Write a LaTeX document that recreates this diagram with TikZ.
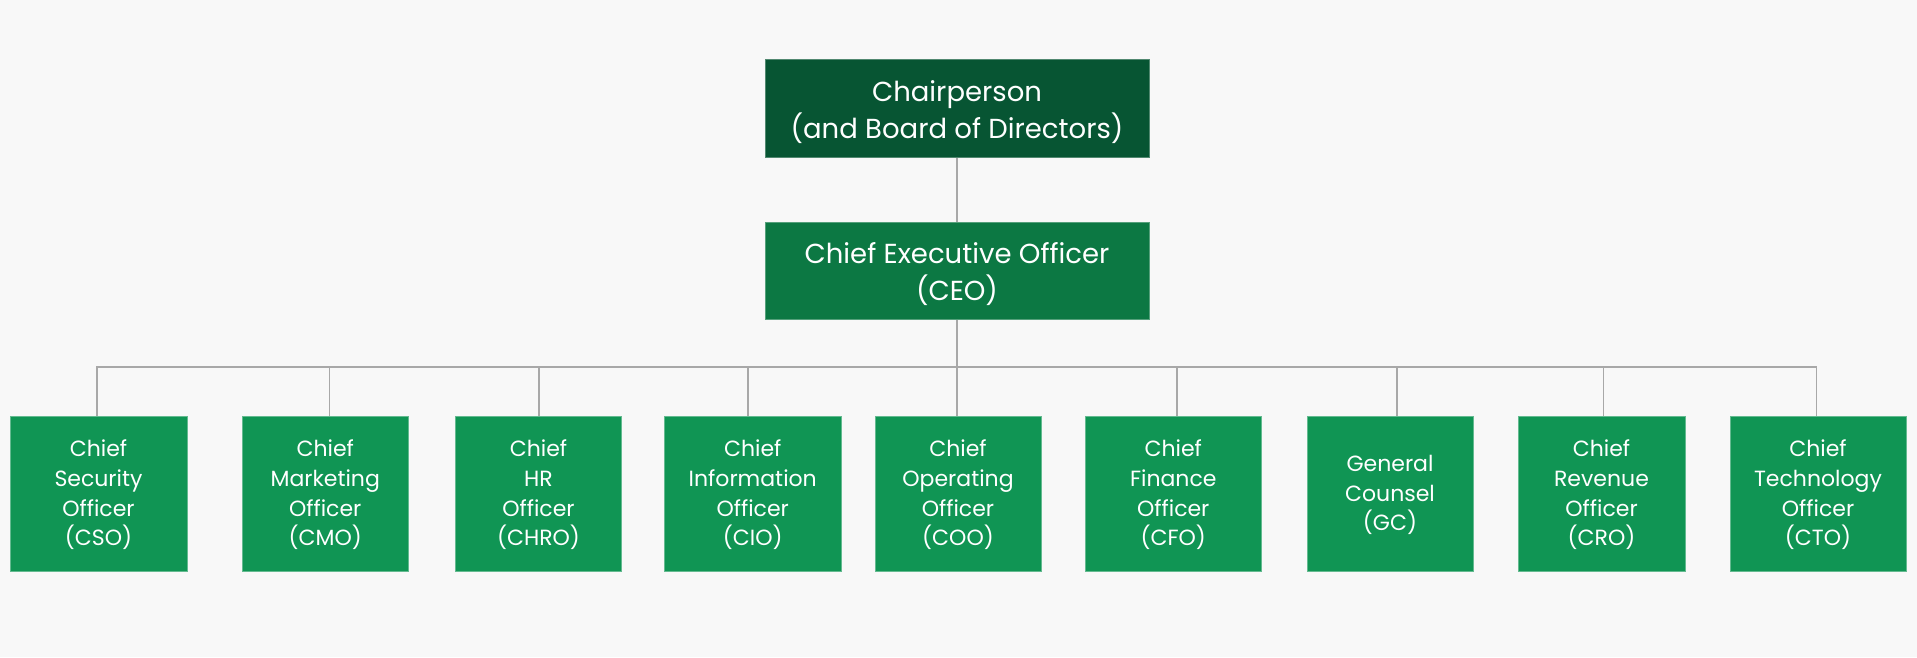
\documentclass[tikz,border=0pt]{standalone}
\usepackage{fontspec}
\setmainfont{Poppins}
\definecolor{bg}{HTML}{F8F8F8}
\definecolor{chairc}{HTML}{075533}
\definecolor{ceoc}{HTML}{0C7843}
\definecolor{kidc}{HTML}{109554}
\definecolor{linec}{HTML}{A8A8A8}
\tikzset{
  orgbox/.style={inner sep=0pt, line width=1pt},
  boxtext/.style={inner sep=0pt, align=center, text=white},
  toptext/.style={boxtext, yshift=-4pt, font=\fontsize{27.5}{37}\selectfont},
  kidtext/.style={boxtext, yshift=-1.5pt, font=\fontsize{22}{29.7}\selectfont},
  topbox/.style={orgbox, minimum width=384pt, minimum height=97pt, label={[toptext]center:{#1}}},
  kidbox/.style={orgbox, fill=kidc, draw=kidc!65!white, minimum height=155pt, label={[kidtext]center:{#1}}},
  conn/.style={draw=linec, line width=1.6pt}
}
\begin{document}
\begin{tikzpicture}[x=1pt,y=-1pt]
\fill[bg] (0,0) rectangle (1917,657);
\useasboundingbox (0,0) rectangle (1917,657);
\node[topbox={Chairperson\\(and Board of Directors)}, fill=chairc, draw=chairc!70!white, minimum height=98pt] (chair) at (957,108) {};
\node[topbox={Chief Executive Officer\\(CEO)}, fill=ceoc, draw=ceoc!70!white] (ceo) at (957,270.5) {};
\node[kidbox={Chief\\Security\\Officer\\(CSO)}, minimum width=177pt] (cso) at (98.5,493.5) {};
\node[kidbox={Chief\\Marketing\\Officer\\(CMO)}, minimum width=166.5pt] (cmo) at (325.25,493.5) {};
\node[kidbox={Chief\\HR\\Officer\\(CHRO)}, minimum width=166pt] (chro) at (538.5,493.5) {};
\node[kidbox={Chief\\Information\\Officer\\(CIO)}, minimum width=176.5pt] (cio) at (752.75,493.5) {};
\node[kidbox={Chief\\Operating\\Officer\\(COO)}, minimum width=166pt] (coo) at (958,493.5) {};
\node[kidbox={Chief\\Finance\\Officer\\(CFO)}, minimum width=176.5pt] (cfo) at (1173.25,493.5) {};
\node[kidbox={General\\Counsel\\(GC)}, minimum width=166pt] (gc) at (1390,493.5) {};
\node[kidbox={Chief\\Revenue\\Officer\\(CRO)}, minimum width=167pt] (cro) at (1601.5,493.5) {};
\node[kidbox={Chief\\Technology\\Officer\\(CTO)}, minimum width=176pt] (cto) at (1818,493.5) {};
\coordinate (bus) at (957,367);
\path[conn] (chair.south) -- (ceo.north);
\path[conn] (ceo.south) -- (bus);
\path[conn] ([xshift=-1.5pt]cso.north) |- (bus);
\path[conn] ([xshift=4.25pt]cmo.north) |- (bus);
\path[conn] ([xshift=0.5pt]chro.north) |- (bus);
\path[conn] ([xshift=-4.75pt]cio.north) |- (bus);
\path[conn] ([xshift=-1pt]coo.north) |- (bus);
\path[conn] ([xshift=3.75pt]cfo.north) |- (bus);
\path[conn] ([xshift=7pt]gc.north) |- (bus);
\path[conn] ([xshift=2pt]cro.north) |- (bus);
\path[conn] ([xshift=-1.4pt]cto.north) |- (bus);
\end{tikzpicture}
\end{document}
